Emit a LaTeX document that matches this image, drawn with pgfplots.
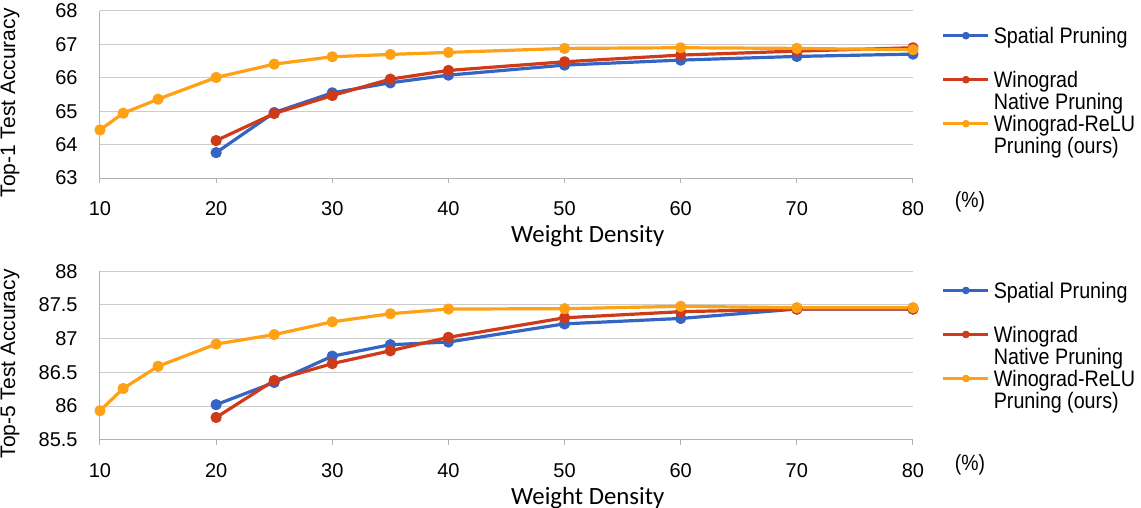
\documentclass[border=0pt]{standalone}
\usepackage{pgfplots}
\pgfplotsset{compat=1.18}
\usepackage{fontspec}
\setmainfont{Liberation Sans}
\newfontfamily\legfont[FakeStretch=0.88]{Liberation Sans}
\newfontfamily\xlabfont{Carlito}

\definecolor{cblue}{RGB}{52,101,196}
\definecolor{cred}{RGB}{207,58,24}
\definecolor{corange}{RGB}{255,161,20}

\pgfplotsset{
  ser/.style={#1, line width=1.6pt, line join=round, mark=*, mark size=2pt,
    mark options={solid, fill=#1, draw=#1}},
  accplot/.style={
    scale only axis, width=406.5pt,
    xmin=10, xmax=80, xtick={10,20,30,40,50,60,70,80},
    clip=false,
    axis x line*=bottom, axis y line*=left,
    axis line style={draw=black!30, line width=0.5pt},
    ymajorgrids, grid style={draw=black!20, line width=0.5pt},
    tick align=outside, major tick length=2.5pt,
    xtick style={draw=black!30, line width=0.5pt},
    ytick style={draw=none},
    tick label style={font=\fontsize{10}{12}\selectfont,
      /pgf/number format/assume math mode=true},
    xticklabel style={anchor=north, inner sep=0pt, yshift=-9pt},
    yticklabel style={anchor=east, inner sep=0pt, xshift=-8.5pt},
    ylabel style={font=\fontsize{10.5}{12}\selectfont,
      at={(axis description cs:-0.1107,0.45)}, anchor=center},
    xlabel={Weight Density},
    xlabel style={font=\xlabfont\fontsize{12.4}{14}\selectfont,
      anchor=base},
    legend style={draw=none, fill=none, inner sep=0pt, outer sep=0pt,
      anchor=north west, row sep=0pt,
      font=\legfont\fontsize{11.2}{12}\selectfont,
      nodes={inner sep=0pt, text height=8pt, text depth=3pt},
      cells={anchor=base west},
      /tikz/every odd column/.append style={column sep=2pt}},
    legend image code/.code={%
      \draw[mark repeat=2, mark phase=2, #1]
        plot coordinates {(0pt,3.8pt) (11.25pt,3.8pt) (22.5pt,3.8pt)};},
    legend image post style={mark size=1.2pt, line width=1.4pt},
  }
}

\begin{document}
\begin{tikzpicture}
\useasboundingbox (0,0) rectangle (570.5pt,-254pt);

% Top-1
\begin{axis}[accplot,
  at={(50pt,-5.5pt)}, anchor=north west, height=83.5pt,
  ymin=63, ymax=68, ytick={63,64,65,66,67,68},
  ylabel={Top-1 Test Accuracy},
  xlabel style={at={(axis description cs:0.6,-0.387)}},
  legend style={at={(axis description cs:1.0357,0.9024)}},
]
\addplot[ser=cblue] coordinates {
  (20,63.76) (25,64.96) (30,65.55) (35,65.85) (40,66.08)
  (50,66.38) (60,66.53) (70,66.64) (80,66.71)};
\addlegendentry{Spatial Pruning}
\addlegendimage{empty legend}
\addlegendentry{\mbox{}}
\addplot[ser=cred] coordinates {
  (20,64.12) (25,64.93) (30,65.47) (35,65.96) (40,66.22)
  (50,66.48) (60,66.68) (70,66.80) (80,66.90)};
\addlegendentry{Winograd}
\addlegendimage{empty legend}
\addlegendentry{Native Pruning}
\addplot[ser=corange] coordinates {
  (10,64.44) (12,64.94) (15,65.36) (20,66.01) (25,66.41) (30,66.63)
  (35,66.70) (40,66.76) (50,66.88) (60,66.90) (70,66.88) (80,66.84)};
\addlegendentry{Winograd-ReLU}
\addlegendimage{empty legend}
\addlegendentry{Pruning (ours)}
\node[font=\legfont\fontsize{11}{12}\selectfont]
  at (axis description cs:1.070,-0.144) {(\%)};
\end{axis}

% Top-5
\begin{axis}[accplot,
  at={(50pt,-135.65pt)}, anchor=north west, height=84.2pt,
  ymin=85.5, ymax=88, ytick={85.5,86,86.5,87,87.5,88},
  ylabel={Top-5 Test Accuracy},
  xlabel style={at={(axis description cs:0.6,-0.384)}},
  legend style={at={(axis description cs:1.0357,0.936)}},
]
\addplot[ser=cblue] coordinates {
  (20,86.02) (25,86.35) (30,86.74) (35,86.91) (40,86.95)
  (50,87.22) (60,87.30) (70,87.44) (80,87.44)};
\addlegendentry{Spatial Pruning}
\addlegendimage{empty legend}
\addlegendentry{\mbox{}}
\addplot[ser=cred] coordinates {
  (20,85.83) (25,86.38) (30,86.63) (35,86.82) (40,87.02)
  (50,87.31) (60,87.40) (70,87.44) (80,87.44)};
\addlegendentry{Winograd}
\addlegendimage{empty legend}
\addlegendentry{Native Pruning}
\addplot[ser=corange] coordinates {
  (10,85.93) (12,86.26) (15,86.59) (20,86.92) (25,87.06) (30,87.25)
  (35,87.37) (40,87.44) (50,87.445) (60,87.48) (70,87.46) (80,87.46)};
\addlegendentry{Winograd-ReLU}
\addlegendimage{empty legend}
\addlegendentry{Pruning (ours)}
\node[font=\legfont\fontsize{11}{12}\selectfont]
  at (axis description cs:1.070,-0.150) {(\%)};
\end{axis}
\end{tikzpicture}
\end{document}
